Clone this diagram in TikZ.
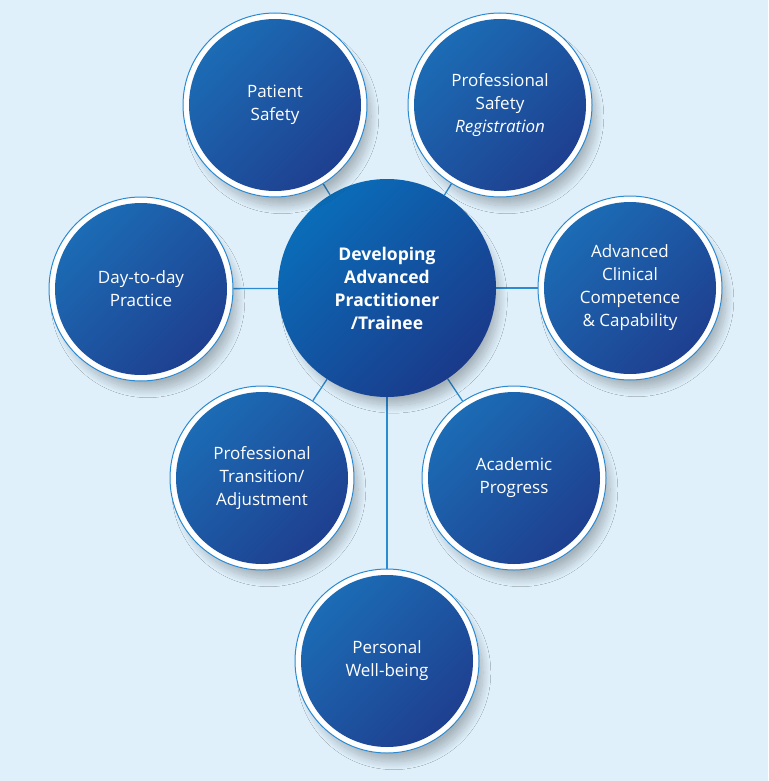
\documentclass[tikz,border=0pt]{standalone}
\usepackage{fontspec}
\setmainfont{Open Sans}
\usetikzlibrary{shadows.blur,backgrounds}
\definecolor{PageBlue}{HTML}{DFF0FB}
\definecolor{RingBlue}{HTML}{2B8BD2}
\definecolor{DiscLight}{HTML}{1C6DB6}
\definecolor{DiscDark}{HTML}{1E3E8E}
\definecolor{HubLight}{HTML}{0A6DB9}
\definecolor{HubDark}{HTML}{1A3A8A}

\begin{document}
\begin{tikzpicture}[x=1pt,y=-1pt,
    every node/.style={font=\fontsize{17}{23}\selectfont,text=white,align=center},
    softshade/.style={blur shadow={shadow xshift=7pt,shadow yshift=-12pt,shadow opacity=25,
      shadow blur radius=8pt,shadow blur steps=16,shadow scale=0.97}},
    topic/.style={circle,minimum size=184pt,inner sep=0pt,draw=RingBlue,line width=1pt,fill=white,softshade,
      path picture={\shade[top color=DiscLight,bottom color=DiscDark,shading angle=45]
        (path picture bounding box.center) circle[radius=86pt];}},
    hub/.style={circle,minimum size=218pt,inner sep=0pt,top color=HubLight,bottom color=HubDark,shading angle=45,
      font=\fontsize{17.5}{23}\selectfont\bfseries,softshade},
    link/.style={RingBlue,line width=1.3pt}
  ]
    \useasboundingbox (0,0) rectangle (768,781);
    \node[hub] (hub) at (387,288) {Developing\\Advanced\\Practitioner\\/Trainee};
    \node[topic] (patient) at (275,105) {Patient\\Safety};
    \node[topic] (registr) at (500,105) {Professional\\Safety\\\textit{Registration}};
    \node[topic] (daily) at (141,289) {Day-to-day\\Practice};
    \node[topic] (clinical) at (630,288) {Advanced\\Clinical\\Competence\\\& Capability};
    \node[topic] (transit) at (262,478) {Professional\\Transition/\\Adjustment};
    \node[topic] (academic) at (514,478) {Academic\\Progress};
    \node[topic] (wellbeing) at (387,661) {Personal\\Well-being};
    \begin{scope}[on background layer]
      \fill[PageBlue] (0,0) rectangle (768,781);
      \draw[link] (hub) -- (patient);
      \draw[link] (hub) -- (registr);
      \draw[link] (hub) -- (daily);
      \draw[link] (hub) -- (clinical);
      \draw[link] (hub) -- (transit);
      \draw[link] (hub) -- (academic);
      \draw[link] (hub) -- (wellbeing);
    \end{scope}
  \end{tikzpicture}
\end{document}
